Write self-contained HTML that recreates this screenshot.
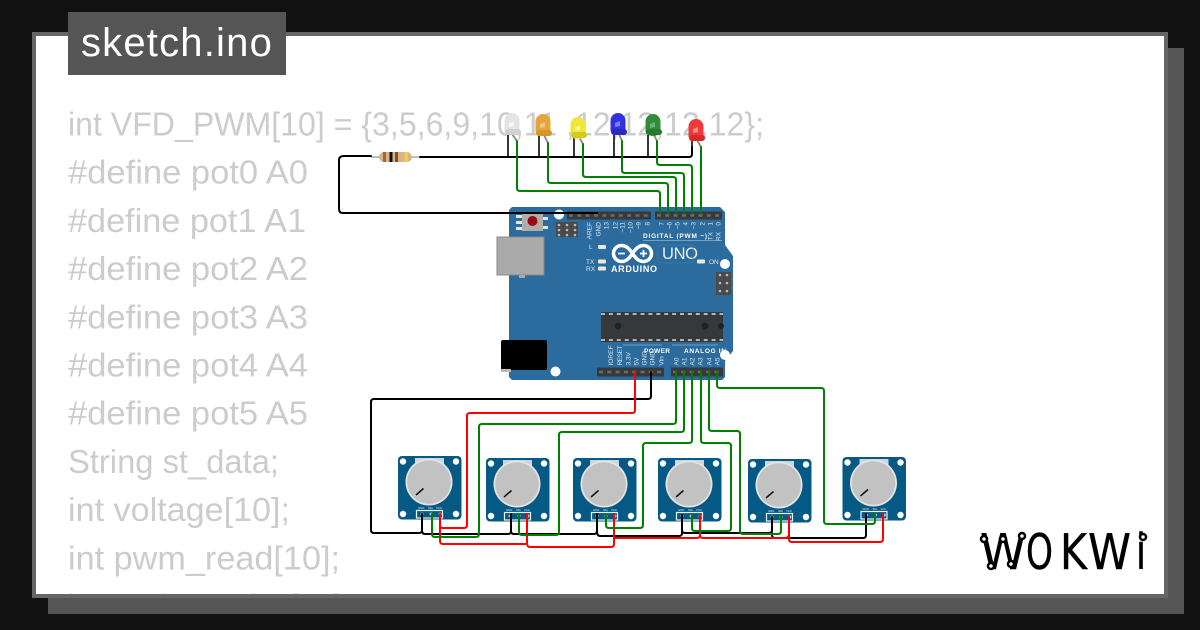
<!DOCTYPE html>
<html><head><meta charset="utf-8"><style>
html,body{margin:0;padding:0;background:#111;width:1200px;height:630px;overflow:hidden}
#s{position:absolute;left:48px;top:48px;width:1136px;height:566px;background:#555}
#c{position:absolute;left:32px;top:32px;width:1128px;height:558px;background:#fff;border:4px solid #666;overflow:hidden}
#m{position:absolute;left:32px;top:594px;width:16px;height:4px;background:#666}
#t{position:absolute;left:68px;top:12px;width:218px;height:63px;background:#555;color:#fff;font:40px/63px "Liberation Sans",sans-serif;text-align:center;letter-spacing:1.2px}
svg{position:absolute;left:0;top:0}
</style></head><body>
<div id="s"></div><div id="c"></div><div id="m"></div>
<svg width="1200" height="630" viewBox="0 0 1200 630" font-family="Liberation Sans,sans-serif">
<defs>
<clipPath id="card"><rect x="36" y="36" width="1128" height="558"/></clipPath>
<g id="pot">
<rect x="0" y="0" width="63.5" height="63.5" rx="4" fill="#055a85"/>
<rect x="17" y="2" width="29" height="12" fill="#c8d6de"/>
<circle cx="31" cy="26" r="23.500" fill="#e4e4e4"/><circle cx="31" cy="26" r="21.800" fill="#c2c2c2"/>
<path d="M18 39L25.500 32.500" stroke="#111" stroke-width="1.500"/>
<circle cx="5" cy="5.500" r="3.200" fill="#fff"/><circle cx="58" cy="5.500" r="3.200" fill="#fff"/><circle cx="5" cy="58" r="3.200" fill="#fff"/><circle cx="58" cy="58" r="3.200" fill="#fff"/>
<rect x="18.500" y="54.500" width="26" height="7.500" fill="none" stroke="#eef3f6" stroke-width="1.200"/>
<text x="20" y="53" font-size="2.800" fill="#dfe8ee">GND</text><text x="30" y="53" font-size="2.800" fill="#dfe8ee">SIG</text><text x="38" y="53" font-size="2.800" fill="#dfe8ee">VCC</text>
<circle cx="24" cy="58" r="1.500" fill="#bbb"/><circle cx="33" cy="58" r="1.500" fill="#bbb"/><circle cx="42" cy="58" r="1.500" fill="#bbb"/>
</g>
</defs>

<g clip-path="url(#card)" fill="#ccc" font-size="33">
<text x="68" y="135.500" textLength="696" lengthAdjust="spacingAndGlyphs">int VFD_PWM[10] = {3,5,6,9,10,11 ,12,12,12,12};</text>
<text x="68" y="183.700" textLength="240" lengthAdjust="spacingAndGlyphs">#define pot0 A0</text>
<text x="68" y="231.900" textLength="238" lengthAdjust="spacingAndGlyphs">#define pot1 A1</text>
<text x="68" y="280.100" textLength="240" lengthAdjust="spacingAndGlyphs">#define pot2 A2</text>
<text x="68" y="328.300" textLength="240" lengthAdjust="spacingAndGlyphs">#define pot3 A3</text>
<text x="68" y="376.500" textLength="240" lengthAdjust="spacingAndGlyphs">#define pot4 A4</text>
<text x="68" y="424.700" textLength="240" lengthAdjust="spacingAndGlyphs">#define pot5 A5</text>
<text x="68" y="472.900" textLength="211" lengthAdjust="spacingAndGlyphs">String st_data;</text>
<text x="68" y="521.100" textLength="222" lengthAdjust="spacingAndGlyphs">int voltage[10];</text>
<text x="68" y="569.300" textLength="272" lengthAdjust="spacingAndGlyphs">int pwm_read[10];</text>
<text x="68" y="617.500" textLength="282" lengthAdjust="spacingAndGlyphs">int analog_value[10];</text>
</g>

<!-- board -->
<path d="M512 207H720L725 212V245L733 256V351L725 361V377L722 380H512L509 377V210Z" fill="#2b6b9d"/>
<circle cx="559" cy="214.500" r="5" fill="#fff"/><circle cx="725" cy="264" r="5" fill="#fff"/><circle cx="725" cy="355" r="5" fill="#fff"/><circle cx="555.500" cy="371.500" r="5" fill="#fff"/>
<rect x="567" y="211.500" width="84" height="8" fill="#38393b"/><rect x="655" y="211.500" width="67" height="8" fill="#38393b"/>
<path d="M569 215.500h80M657 215.500h63" stroke="#6b6b6b" stroke-width="2.500" stroke-dasharray="4 4.300"/>
<rect x="597" y="367.500" width="67" height="9" fill="#38393b"/><rect x="671" y="367.500" width="52" height="9" fill="#38393b"/>
<path d="M599 372h63M673 372h48" stroke="#6b6b6b" stroke-width="2.500" stroke-dasharray="4 4.300"/>
<rect x="556" y="222" width="22" height="15" fill="#4a4a4a"/>
<g fill="#bbb"><circle cx="559" cy="225" r="1.300"/><circle cx="567" cy="225" r="1.300"/><circle cx="575" cy="225" r="1.300"/><circle cx="559" cy="230" r="1.300"/><circle cx="567" cy="230" r="1.300"/><circle cx="575" cy="230" r="1.300"/><circle cx="559" cy="235" r="1.300"/><circle cx="567" cy="235" r="1.300"/><circle cx="575" cy="235" r="1.300"/></g>
<rect x="716" y="272" width="15" height="23" fill="#4a4a4a"/>
<g fill="#bbb"><circle cx="720" cy="275" r="1.300"/><circle cx="727" cy="275" r="1.300"/><circle cx="720" cy="283" r="1.300"/><circle cx="727" cy="283" r="1.300"/><circle cx="720" cy="291" r="1.300"/><circle cx="727" cy="291" r="1.300"/></g>
<rect x="516" y="215" width="6" height="3" fill="#e4e4e4"/><rect x="516" y="221" width="6" height="3" fill="#e4e4e4"/><rect x="516" y="227" width="6" height="3" fill="#e4e4e4"/><rect x="543" y="217" width="5" height="3" fill="#e4e4e4"/><rect x="543" y="226" width="5" height="3" fill="#e4e4e4"/>
<rect x="522" y="212" width="21" height="19" fill="#b1adab"/><circle cx="532.500" cy="221" r="5" fill="#9b0a14"/>
<rect x="497" y="237" width="47" height="38" fill="#aaa" stroke="#888" stroke-width="1"/>
<rect x="519" y="275" width="6" height="3" fill="#aaa"/>
<rect x="501" y="340" width="46" height="30" rx="2" fill="#000"/><rect x="501" y="369" width="10" height="3" fill="#bbb"/>
<rect x="601" y="312" width="122" height="30" fill="#36383a"/>
<path d="M601 314h122M601 340h122" stroke="#ddd" stroke-width="1.500" stroke-dasharray="4 3.900"/>
<circle cx="618" cy="326" r="3.500" fill="#222"/><circle cx="705" cy="326" r="3.500" fill="#222"/><circle cx="721" cy="326" r="3" fill="#222"/>
<path d="M632.500 253.500c-4-6-7-8-11-8a8 8 0 0 0 0 16c4 0 7-2 11-8s7-8 11-8a8 8 0 0 1 0 16c-4 0-7-2-11-8z" fill="none" stroke="#fff" stroke-width="3.500"/>
<path d="M618 253.500h7M640 253.500h7M643.500 250v7" stroke="#fff" stroke-width="1.800"/>
<text x="611" y="272" font-size="9" font-weight="bold" fill="#fff" textLength="46">ARDUINO</text>
<text x="662" y="259" font-size="16.500" fill="#e8eef2" textLength="36">UNO</text>
<rect x="658" y="245" width="35" height="18" rx="3" fill="none" stroke="#3f7cab" stroke-width=".7"/>
<g fill="#dce6ee" font-size="6.500">
<text x="589" y="249">L</text><text x="586" y="264">TX</text><text x="586" y="271">RX</text><text x="709" y="264">ON</text>
<text x="643" y="238" font-weight="bold" fill="#fff" textLength="64">DIGITAL (PWM ~)</text>
<text x="644" y="353" font-weight="bold" fill="#fff" textLength="26">POWER</text>
<text x="684" y="353" font-weight="bold" fill="#fff" textLength="42">ANALOG IN</text>
</g>
<rect x="598" y="245" width="8" height="4" rx="1" fill="#e8e8e0"/><rect x="598" y="259.500" width="8" height="4" rx="1" fill="#e8e8e0"/><rect x="598" y="266.500" width="8" height="4" rx="1" fill="#e8e8e0"/><rect x="697" y="259.500" width="8" height="4" rx="1" fill="#e8e8e0"/>
<g fill="#dce6ee" font-size="6.500" text-anchor="end">
<text transform="translate(591.500 222) rotate(-90)">AREF</text><text transform="translate(600.500 222) rotate(-90)">GND</text><text transform="translate(608.500 222) rotate(-90)">13</text><text transform="translate(617.500 222) rotate(-90)">12</text><text transform="translate(624.500 222) rotate(-90)">~11</text><text transform="translate(632.500 222) rotate(-90)">~10</text><text transform="translate(640.500 222) rotate(-90)">~9</text><text transform="translate(649.500 222) rotate(-90)">8</text>
<text transform="translate(663.500 222) rotate(-90)">7</text><text transform="translate(671.500 222) rotate(-90)">~6</text><text transform="translate(679.500 222) rotate(-90)">~5</text><text transform="translate(687.500 222) rotate(-90)">4</text><text transform="translate(695.500 222) rotate(-90)">~3</text><text transform="translate(704.500 222) rotate(-90)">2</text><text transform="translate(712.500 222) rotate(-90)">1</text><text transform="translate(720.500 222) rotate(-90)">0</text>
<text transform="translate(712.500 232) rotate(-90)">TX</text><text transform="translate(720.500 232) rotate(-90)">RX</text>
</g>
<g fill="#dce6ee" font-size="6.500">
<text transform="translate(613 365.500) rotate(-90)" textLength="20">IOREF</text><text transform="translate(622 365.500) rotate(-90)" textLength="20">RESET</text><text transform="translate(630.500 365.500) rotate(-90)">3.3V</text><text transform="translate(638.500 365.500) rotate(-90)">5V</text><text transform="translate(646.500 365.500) rotate(-90)">GND</text><text transform="translate(654.500 365.500) rotate(-90)">GND</text><text transform="translate(663.500 365.500) rotate(-90)">Vin</text>
<text transform="translate(678.500 365.500) rotate(-90)">A0</text><text transform="translate(686.500 365.500) rotate(-90)">A1</text><text transform="translate(694.500 365.500) rotate(-90)">A2</text><text transform="translate(702.500 365.500) rotate(-90)">A3</text><text transform="translate(711.500 365.500) rotate(-90)">A4</text><text transform="translate(719.500 365.500) rotate(-90)">A5</text>
</g>
<path d="M643 240.500H722M623 345H662M672 345H718" stroke="#8fb2cc" stroke-width=".8" fill="none"/>

<!-- pots -->
<use href="#pot" x="398" y="456"/><use href="#pot" x="486" y="458"/><use href="#pot" x="573" y="458"/><use href="#pot" x="658" y="458"/><use href="#pot" x="748" y="459"/><use href="#pot" x="842.500" y="457"/>

<!-- LEDs -->
<g stroke-width="1.800" fill="none">
<path stroke="#222" d="M508 135V157M539 136V157M574 138V157M614 135V157M648 135V157M692 141V152"/>
<path stroke="#888" d="M512 134L517 141M544 135L548 143M579 137L583 144M619 134L622 141M654 135L657 141M697 140L701 147"/>
</g>
<path d="M504.500 120.500a7.500 7.500 0 0 1 15 0V130a7.500 5 0 0 1 -15 0z" fill="#e4e4e4"/><rect x="505" y="129" width="16" height="6" rx="3" fill="#d0d0d0"/><path d="M509 123l5-2v5l-5 1z" fill="#f6f6f6"/>
<path d="M535.500 121.500a7.500 7.500 0 0 1 15 0V131a7.500 5 0 0 1 -15 0z" fill="#e6a53a"/><rect x="536" y="130" width="16" height="6" rx="3" fill="#d4952e"/><path d="M540 124l5-2v5l-5 1z" fill="#f0c57d"/>
<path d="M570.500 124.500a7.500 7.500 0 0 1 15 0V134a7.500 5 0 0 1 -15 0z" fill="#efe63a"/><rect x="571" y="132" width="16" height="6" rx="3" fill="#d4ca20"/><path d="M575 127l5-2v5l-5 1z" fill="#f8f290"/>
<path d="M610.500 120.500a7.500 7.500 0 0 1 15 0V130a7.500 5 0 0 1 -15 0z" fill="#3232e0"/><rect x="611" y="129" width="16" height="6" rx="3" fill="#2a2ac0"/><path d="M615 123l5-2v5l-5 1z" fill="#7f7ff0"/>
<path d="M645.500 121.500a7.500 7.500 0 0 1 15 0V131a7.500 5 0 0 1 -15 0z" fill="#2f8c38"/><rect x="646" y="129" width="16" height="6" rx="3" fill="#267a2e"/><path d="M650 124l5-2v5l-5 1z" fill="#6cb072"/>
<path d="M688.500 126.500a7.500 7.500 0 0 1 15 0V136a7.500 5 0 0 1 -15 0z" fill="#ef3a3a"/><rect x="689" y="135" width="16" height="6" rx="3" fill="#d42a2a"/><path d="M693 129l5-2v5l-5 1z" fill="#f78a8a"/>

<!-- resistor -->
<path d="M371 157H420" stroke="#aaa" stroke-width="1.500"/>
<rect x="379" y="152" width="33" height="10" rx="5" fill="#d9b48a"/>
<rect x="383" y="152" width="3" height="10" fill="#a9652f"/><rect x="389.500" y="152" width="3" height="10" fill="#111"/><rect x="395" y="152" width="3" height="10" fill="#8a4b20"/><rect x="404.500" y="152" width="3.500" height="10" fill="#e8d24a"/>

<!-- wires -->
<g fill="none" stroke-width="2" stroke-linecap="round">
<g stroke="#000">
<path d="M420 157H689Q692 157 692 154V147"/>
<path d="M371 156H344Q339 156 339 160V209Q339 213 343 213H597"/>
<path d="M651 372V396Q651 399 648 399H374Q371 399 371 402V530Q371 533 374 533H419Q422 533 422 530V514"/>
<path d="M422 530Q422 534 425 534H508Q511 534 511 531V514M511 531Q511 534 514 534H594Q597 534 597 531V514M597 531Q597 536 600 536H679Q682 536 682 533V515M682 530Q682 533 685 533H769Q772 533 772 530V517M772 533V535Q772 538 775 538H863Q866 538 866 535V514"/>
</g>
<g stroke="#f00">
<path d="M635 372V410Q635 413 632 413H470Q467 413 467 416V525Q467 528 464 528H443Q440 528 440 525V514"/>
<path d="M440 525V541Q440 544 443 544H527M527 514V543Q527 547 530 547H611Q614 547 614 544V514M614 538H697Q700 538 700 535V515M700 535Q700 538 703 538H786Q789 537 789 534V517M789 534V539Q789 542 792 542H880Q883 542 883 539V514"/>
</g>
<g stroke="#008000">
<path d="M517 141V188Q517 191 520 191H657Q660 191 660 194V213"/>
<path d="M548 143V180Q548 183 551 183H665Q668 183 668 186V213"/>
<path d="M583 144V174Q583 177 586 177H673Q676 177 676 180V213"/>
<path d="M622 141V170Q622 173 625 173H681Q684 173 684 176V213"/>
<path d="M657 141V162Q657 165 660 165H689Q692 165 692 168V213"/>
<path d="M701 147V213"/>
<path d="M676 372V421Q676 424 673 424H482Q479 424 479 427V534Q479 537 476 537H435Q432 537 432 534V514"/>
<path d="M684 372V429Q684 432 681 432H562Q559 432 559 435V532Q559 535 556 535H522Q519 535 519 532V514"/>
<path d="M692 372V440Q692 443 689 443H646Q643 443 643 446V525Q643 528 640 528H609Q606 528 606 525V514"/>
<path d="M701 372V440Q701 443 704 443H728Q731 443 731 446V528Q731 531 728 531H695Q692 531 692 528V515"/>
<path d="M709 372V428Q709 431 712 431H737Q740 431 740 434V531Q740 534 743 534H778Q781 534 781 531V515"/>
<path d="M717 372V385Q717 388 720 388H821Q824 388 824 391V521Q824 524 827 524H872Q875 524 875 521V514"/>
</g>
</g>

<!-- logo -->
<g fill="#000" font-family="DejaVu Sans,sans-serif" font-size="49" stroke="#000" stroke-width=".4">
<text x="980" y="569" textLength="46" lengthAdjust="spacingAndGlyphs">W</text>
<text x="1026" y="569" textLength="27" lengthAdjust="spacingAndGlyphs">O</text>
<text x="1060" y="569" textLength="27" lengthAdjust="spacingAndGlyphs">K</text>
<text x="1088" y="569" textLength="43" lengthAdjust="spacingAndGlyphs">W</text>
<text x="1136" y="569" textLength="10" lengthAdjust="spacingAndGlyphs">i</text>
</g>
<g fill="#fff" stroke="#000" stroke-width="2.500"><circle cx="984" cy="539" r="3"/><circle cx="1003" cy="539" r="3"/><circle cx="1022" cy="536" r="3"/><circle cx="991" cy="566" r="3"/><circle cx="1011" cy="564" r="3"/><circle cx="1143" cy="537" r="3"/></g>
</svg>
<div id="t">sketch.ino</div>
</body></html>
